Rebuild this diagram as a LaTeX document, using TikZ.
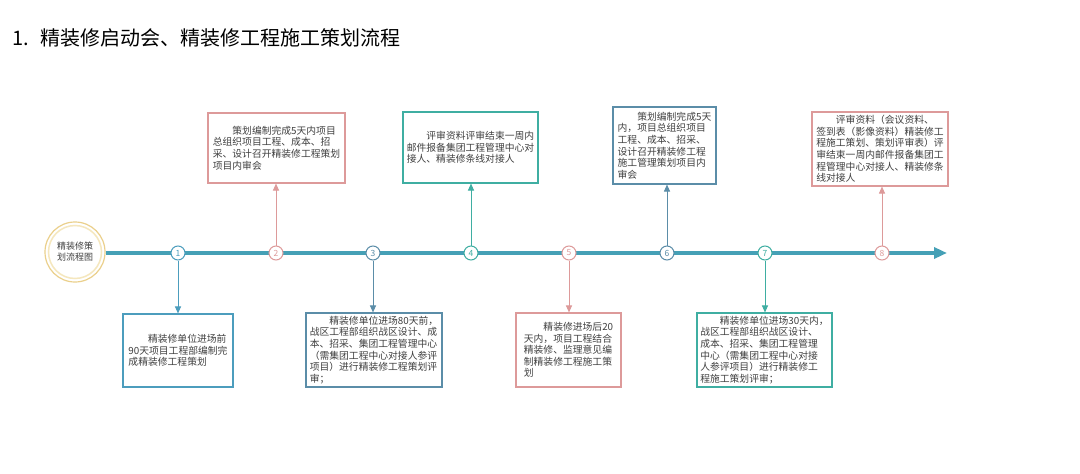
\documentclass[tikz,border=0pt]{standalone}
\usepackage{fontspec}
\setmainfont{Noto Sans CJK SC}
\usetikzlibrary{arrows.meta}
\definecolor{cblue}{HTML}{4C9DBD}
\definecolor{cslate}{HTML}{5B8DA8}
\definecolor{cpink}{HTML}{DD9A9A}
\definecolor{cteal}{HTML}{3FAEA2}
\definecolor{cline}{HTML}{45A0B6}
\definecolor{cgold}{HTML}{EBD08C}
\definecolor{cgoldl}{HTML}{F5E7BE}
\definecolor{ctext}{HTML}{404040}
\tikzset{
  box/.style={draw=#1, line width=1.1pt, fill=white, inner sep=0pt, text=ctext,
    font=\fontsize{9.8}{11.6}\selectfont, align=left},
  num/.style={circle, draw=#1, fill=white, line width=1pt, minimum size=14pt,
    inner sep=0pt, text=#1, font=\fontsize{8.5}{8.5}\selectfont},
  link/.style={draw=#1, line width=1pt, -{Triangle[length=7pt,width=6pt]}},
  mainline/.style={draw=cline, line width=4pt, -{Triangle[length=13pt,width=11pt]}}
}
\newcommand{\ii}{\hspace*{2em}}
\begin{document}
\begin{tikzpicture}[x=1pt,y=-1pt]
\useasboundingbox (0,0) rectangle (1080,474);
\fill[white] (0,0) rectangle (1080,474);

% title
\node[anchor=west, inner sep=0pt, font=\fontsize{20}{20}\selectfont, text=black] (title) at (12,38) {1.\hspace{0.6em}精装修启动会、精装修工程施工策划流程};

% start circle
\node[circle, draw=cgold, line width=1.2pt, minimum size=60pt, inner sep=0pt, fill=white,
      font=\fontsize{9}{11}\selectfont, text=ctext, align=center] (start) at (75,252) {精装修策\\划流程图};
\draw[cgoldl, line width=1.5pt] (start.center) circle (26.5);

% main line
\coordinate (tip) at (947,253);
\draw[mainline] (start.east |- tip) -- (tip);

% numbered circles
\node[num=cblue]  (n1) at (178,253) {1};
\node[num=cpink]  (n2) at (276,253) {2};
\node[num=cslate] (n3) at (373,253) {3};
\node[num=cteal]  (n4) at (471,253) {4};
\node[num=cpink]  (n5) at (569,253) {5};
\node[num=cslate] (n6) at (667,253) {6};
\node[num=cteal]  (n7) at (765,253) {7};
\node[num=cpink]  (n8) at (882,253) {8};

% top boxes
\node[box=cpink, minimum width=137pt, minimum height=70pt] (b2) at (276.5,148)
 {\ii 策划编制完成5天内项目\\总组织项目工程、成本、招\\采、设计召开精装修工程策划\\项目内审会};
\node[box=cteal, minimum width=135pt, minimum height=71pt] (b4) at (470.5,147.5)
 {\ii 评审资料评审结束一周内\\邮件报备集团工程管理中心对\\接人、精装修条线对接人};
\node[box=cslate, minimum width=103pt, minimum height=77pt] (b6) at (664.5,145.5)
 {\ii 策划编制完成5天\\内，项目总组织项目\\工程、成本、招采、\\设计召开精装修工程\\施工管理策划项目内\\审会};
\node[box=cpink, minimum width=136pt, minimum height=74pt] (b8) at (880,149)
 {\ii 评审资料（会议资料、\\签到表（影像资料）精装修工\\程施工策划、策划评审表）评\\审结束一周内邮件报备集团工\\程管理中心对接人、精装修条\\线对接人};

% bottom boxes
\node[box=cblue, minimum width=110pt, minimum height=73pt] (b1) at (178,350.5)
 {\ii 精装修单位进场前\\90天项目工程部编制完\\成精装修工程策划};
\node[box=cslate, minimum width=136pt, minimum height=74pt] (b3) at (374,350)
 {\ii 精装修单位进场80天前，\\战区工程部组织战区设计、成\\本、招采、集团工程管理中心\\（需集团工程中心对接人参评\\项目）进行精装修工程策划评\\审；};
\node[box=cpink, minimum width=105pt, minimum height=74pt] (b5) at (568.5,350)
 {\ii 精装修进场后20\\天内，项目工程结合\\精装修、监理意见编\\制精装修工程施工策\\划};
\node[box=cteal, minimum width=135pt, minimum height=74pt] (b7) at (764.5,350)
 {\ii 精装修单位进场30天内，\\战区工程部组织战区设计、\\成本、招采、集团工程管理\\中心（需集团工程中心对接\\人参评项目）进行精装修工\\程施工策划评审；};

% connectors
\draw[link=cblue]  (n1) -- (n1 |- b1.north);
\draw[link=cpink]  (n2) -- (n2 |- b2.south);
\draw[link=cslate] (n3) -- (n3 |- b3.north);
\draw[link=cteal]  (n4) -- (n4 |- b4.south);
\draw[link=cpink]  (n5) -- (n5 |- b5.north);
\draw[link=cslate] (n6) -- (n6 |- b6.south);
\draw[link=cteal]  (n7) -- (n7 |- b7.north);
\draw[link=cpink]  (n8) -- (n8 |- b8.south);
\end{tikzpicture}
\end{document}
